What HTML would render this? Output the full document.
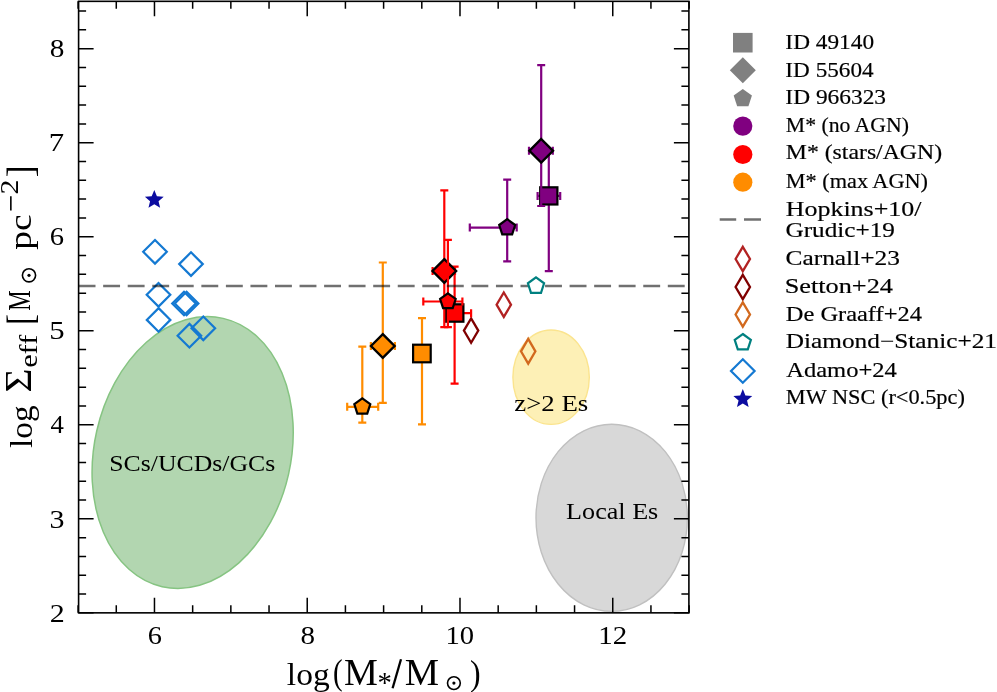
<!DOCTYPE html><html><head><meta charset="utf-8"><style>html,body{margin:0;padding:0;background:#fff;width:997px;height:692px;overflow:hidden}</style></head><body><svg width="997" height="692" viewBox="0 0 997 692" style="display:block;will-change:transform;font-family:'Liberation Serif',serif"><rect width="997" height="692" fill="#fff"/><ellipse cx="192.65" cy="452.55" rx="98.3" ry="137.6" transform="rotate(12.8 192.65 452.55)" fill="#b2d6b0" stroke="#86c482" stroke-width="1.5"/><ellipse cx="551.1" cy="377.2" rx="38.2" ry="47.2" fill="#fdf0b6" stroke="#fbe48e" stroke-width="1.4"/><ellipse cx="611.7" cy="517.8" rx="75.7" ry="93.6" fill="#d8d8d8" stroke="#c0c0c0" stroke-width="1.4"/><text transform="translate(109.30 471.30) scale(1.1199 1)" font-size="23">SCs/UCDs/GCs</text><text transform="translate(514.29 410.70) scale(1.1670 1)" font-size="23">z&gt;2 Es</text><text transform="translate(566.12 518.70) scale(1.1372 1)" font-size="23">Local Es</text><path d="M155.00 240.00L166.80 251.80L155.00 263.60L143.20 251.80Z" fill="none" stroke="#1479d2" stroke-width="2.2" stroke-linejoin="miter"/><path d="M191.00 252.30L202.80 264.10L191.00 275.90L179.20 264.10Z" fill="none" stroke="#1479d2" stroke-width="2.2" stroke-linejoin="miter"/><path d="M158.50 283.00L170.30 294.80L158.50 306.60L146.70 294.80Z" fill="none" stroke="#1479d2" stroke-width="2.2" stroke-linejoin="miter"/><path d="M184.00 291.70L195.80 303.50L184.00 315.30L172.20 303.50Z" fill="none" stroke="#1479d2" stroke-width="2.2" stroke-linejoin="miter"/><path d="M186.60 291.70L198.40 303.50L186.60 315.30L174.80 303.50Z" fill="none" stroke="#1479d2" stroke-width="2.2" stroke-linejoin="miter"/><path d="M158.60 308.10L170.40 319.90L158.60 331.70L146.80 319.90Z" fill="none" stroke="#1479d2" stroke-width="2.2" stroke-linejoin="miter"/><path d="M189.40 323.90L201.20 335.70L189.40 347.50L177.60 335.70Z" fill="none" stroke="#1479d2" stroke-width="2.2" stroke-linejoin="miter"/><path d="M203.30 316.50L215.10 328.30L203.30 340.10L191.50 328.30Z" fill="none" stroke="#1479d2" stroke-width="2.2" stroke-linejoin="miter"/><polygon points="154.30,189.90 156.92,196.20 163.72,196.74 158.54,201.18 160.12,207.81 154.30,204.26 148.48,207.81 150.06,201.18 144.88,196.74 151.68,196.20" fill="#0c0ca0"/><path d="M503.80 292.50L511.00 304.70L503.80 316.90L496.60 304.70Z" fill="none" stroke="#b22222" stroke-width="2.3" stroke-linejoin="miter"/><path d="M471.10 318.40L478.30 330.60L471.10 342.80L463.90 330.60Z" fill="none" stroke="#800000" stroke-width="2.3" stroke-linejoin="miter"/><path d="M528.20 338.90L535.40 351.30L528.20 363.70L521.00 351.30Z" fill="none" stroke="#d2691e" stroke-width="2.3" stroke-linejoin="miter"/><path d="M362.3 406.8V346.7M358.3 346.7H366.3" stroke="#ff8c00" stroke-width="2.2" fill="none"/><path d="M362.3 406.8V422.7M358.3 422.7H366.3" stroke="#ff8c00" stroke-width="2.2" fill="none"/><path d="M362.3 406.8H347.2M347.2 402.8V410.8" stroke="#ff8c00" stroke-width="2.2" fill="none"/><path d="M362.3 406.8H378.2M378.2 402.8V410.8" stroke="#ff8c00" stroke-width="2.2" fill="none"/><path d="M382.8 346V262.5M378.8 262.5H386.8" stroke="#ff8c00" stroke-width="2.2" fill="none"/><path d="M382.8 346V402.8M378.8 402.8H386.8" stroke="#ff8c00" stroke-width="2.2" fill="none"/><path d="M382.8 346H370.9M370.9 342V350" stroke="#ff8c00" stroke-width="2.2" fill="none"/><path d="M382.8 346H394.9M394.9 342V350" stroke="#ff8c00" stroke-width="2.2" fill="none"/><path d="M422 353.5V318.2M418 318.2H426" stroke="#ff8c00" stroke-width="2.2" fill="none"/><path d="M422 353.5V424.3M418 424.3H426" stroke="#ff8c00" stroke-width="2.2" fill="none"/><polygon points="362.30,398.40 370.29,404.20 367.24,413.60 357.36,413.60 354.31,404.20" fill="#ff8c00" stroke="#000" stroke-width="2.2" stroke-linejoin="miter"/><path d="M382.80 334.20L394.60 346.00L382.80 357.80L371.00 346.00Z" fill="#ff8c00" stroke="#000" stroke-width="2.4" stroke-linejoin="miter"/><rect x="413.10" y="344.70" width="17.60" height="17.60" fill="#ff8c00" stroke="#000" stroke-width="2.2"/><path d="M454.6 313.2V266.7M450.6 266.7H458.6" stroke="#ff0000" stroke-width="2.2" fill="none"/><path d="M454.6 313.2V383.6M450.6 383.6H458.6" stroke="#ff0000" stroke-width="2.2" fill="none"/><path d="M454.6 313.2H471.1M471.1 309.2V317.2" stroke="#ff0000" stroke-width="2.2" fill="none"/><rect x="446.00" y="304.30" width="17.40" height="17.40" fill="#ff0000" stroke="#000" stroke-width="2.2"/><path d="M444.3 271.0V190.4M440.3 190.4H448.3" stroke="#ff0000" stroke-width="2.2" fill="none"/><path d="M444.3 271.0V327.2M440.3 327.2H448.3" stroke="#ff0000" stroke-width="2.2" fill="none"/><path d="M444.3 271.0H432.6M432.6 267.0V275.0" stroke="#ff0000" stroke-width="2.2" fill="none"/><path d="M444.3 271.0H455.0M455.0 267.0V275.0" stroke="#ff0000" stroke-width="2.2" fill="none"/><path d="M444.30 259.20L456.10 271.00L444.30 282.80L432.50 271.00Z" fill="#ff0000" stroke="#000" stroke-width="2.4" stroke-linejoin="miter"/><path d="M447.9 301.5V239.9M443.9 239.9H451.9" stroke="#ff0000" stroke-width="2.2" fill="none"/><path d="M447.9 301.5V327.2M443.9 327.2H451.9" stroke="#ff0000" stroke-width="2.2" fill="none"/><path d="M447.9 301.5H423.3M423.3 297.5V305.5" stroke="#ff0000" stroke-width="2.2" fill="none"/><path d="M447.9 301.5H462.4M462.4 297.5V305.5" stroke="#ff0000" stroke-width="2.2" fill="none"/><polygon points="447.90,293.30 455.70,298.97 452.72,308.13 443.08,308.13 440.10,298.97" fill="#ff0000" stroke="#000" stroke-width="2.2" stroke-linejoin="miter"/><path d="M548.8 195.9V150M544.8 150H552.8" stroke="#800080" stroke-width="2.2" fill="none"/><path d="M548.8 195.9V271.1M544.8 271.1H552.8" stroke="#800080" stroke-width="2.2" fill="none"/><path d="M548.8 195.9H537.6M537.6 191.9V199.9" stroke="#800080" stroke-width="2.2" fill="none"/><path d="M548.8 195.9H560.2M560.2 191.9V199.9" stroke="#800080" stroke-width="2.2" fill="none"/><rect x="540.20" y="187.30" width="17.20" height="17.20" fill="#800080" stroke="#000" stroke-width="2.2"/><path d="M541.2 150.8V65.2M537.2 65.2H545.2" stroke="#800080" stroke-width="2.2" fill="none"/><path d="M541.2 150.8V206M537.2 206H545.2" stroke="#800080" stroke-width="2.2" fill="none"/><path d="M541.2 150.8H529M529 146.8V154.8" stroke="#800080" stroke-width="2.2" fill="none"/><path d="M541.2 150.8H552.8M552.8 146.8V154.8" stroke="#800080" stroke-width="2.2" fill="none"/><path d="M541.20 139.00L553.00 150.80L541.20 162.60L529.40 150.80Z" fill="#800080" stroke="#000" stroke-width="2.4" stroke-linejoin="miter"/><path d="M507.2 227.6V179.7M503.2 179.7H511.2" stroke="#800080" stroke-width="2.2" fill="none"/><path d="M507.2 227.6V261.3M503.2 261.3H511.2" stroke="#800080" stroke-width="2.2" fill="none"/><path d="M507.2 227.6H469.8M469.8 223.6V231.6" stroke="#800080" stroke-width="2.2" fill="none"/><path d="M507.2 227.6H516.7M516.7 223.6V231.6" stroke="#800080" stroke-width="2.2" fill="none"/><polygon points="507.20,219.20 515.19,225.00 512.14,234.40 502.26,234.40 499.21,225.00" fill="#800080" stroke="#000" stroke-width="2.2" stroke-linejoin="miter"/><line x1="78.6" y1="286" x2="688.9" y2="286" stroke="rgba(0,0,0,0.56)" stroke-width="2.3" stroke-dasharray="16.9 7.65"/><polygon points="536.00,277.40 544.08,283.27 541.00,292.78 531.00,292.78 527.92,283.27" fill="#fff" stroke="#008080" stroke-width="2.2" stroke-linejoin="miter"/><path d="M78.09 612.85V605.35M78.09 1.33V8.83M116.28 612.85V605.35M116.28 1.33V8.83M154.47 612.85V597.85M154.47 1.33V16.33M192.66 612.85V605.35M192.66 1.33V8.83M230.85 612.85V605.35M230.85 1.33V8.83M269.04 612.85V605.35M269.04 1.33V8.83M307.23 612.85V597.85M307.23 1.33V16.33M345.42 612.85V605.35M345.42 1.33V8.83M383.61 612.85V605.35M383.61 1.33V8.83M421.80 612.85V605.35M421.80 1.33V8.83M459.99 612.85V597.85M459.99 1.33V16.33M498.18 612.85V605.35M498.18 1.33V8.83M536.37 612.85V605.35M536.37 1.33V8.83M574.56 612.85V605.35M574.56 1.33V8.83M612.75 612.85V597.85M612.75 1.33V16.33M650.94 612.85V605.35M650.94 1.33V8.83M689.13 612.85V605.35M689.13 1.33V8.83M78.6 612.85H93.60M688.9 612.85H673.90M78.6 594.04H86.10M688.9 594.04H681.40M78.6 575.24H86.10M688.9 575.24H681.40M78.6 556.43H86.10M688.9 556.43H681.40M78.6 537.63H86.10M688.9 537.63H681.40M78.6 518.82H93.60M688.9 518.82H673.90M78.6 500.01H86.10M688.9 500.01H681.40M78.6 481.21H86.10M688.9 481.21H681.40M78.6 462.40H86.10M688.9 462.40H681.40M78.6 443.60H86.10M688.9 443.60H681.40M78.6 424.79H93.60M688.9 424.79H673.90M78.6 405.98H86.10M688.9 405.98H681.40M78.6 387.18H86.10M688.9 387.18H681.40M78.6 368.37H86.10M688.9 368.37H681.40M78.6 349.57H86.10M688.9 349.57H681.40M78.6 330.76H93.60M688.9 330.76H673.90M78.6 311.95H86.10M688.9 311.95H681.40M78.6 293.15H86.10M688.9 293.15H681.40M78.6 274.34H86.10M688.9 274.34H681.40M78.6 255.54H86.10M688.9 255.54H681.40M78.6 236.73H93.60M688.9 236.73H673.90M78.6 217.92H86.10M688.9 217.92H681.40M78.6 199.12H86.10M688.9 199.12H681.40M78.6 180.31H86.10M688.9 180.31H681.40M78.6 161.51H86.10M688.9 161.51H681.40M78.6 142.70H93.60M688.9 142.70H673.90M78.6 123.89H86.10M688.9 123.89H681.40M78.6 105.09H86.10M688.9 105.09H681.40M78.6 86.28H86.10M688.9 86.28H681.40M78.6 67.48H86.10M688.9 67.48H681.40M78.6 48.67H93.60M688.9 48.67H673.90M78.6 29.86H86.10M688.9 29.86H681.40M78.6 11.06H86.10M688.9 11.06H681.40" stroke="#000" stroke-width="1.5" fill="none"/><rect x="78.6" y="1.33" width="610.30" height="611.52" fill="none" stroke="#000" stroke-width="1.6"/><text transform="translate(49.80 621.55) scale(1.2000 1)" font-size="25">2</text><text transform="translate(49.50 527.52) scale(1.2000 1)" font-size="25">3</text><text transform="translate(50.47 433.49) scale(1.0696 1)" font-size="25">4</text><text transform="translate(49.16 339.46) scale(1.2300 1)" font-size="25">5</text><text transform="translate(49.86 245.43) scale(1.1442 1)" font-size="25">6</text><text transform="translate(48.85 151.40) scale(1.2300 1)" font-size="25">7</text><text transform="translate(49.83 57.37) scale(1.1714 1)" font-size="25">8</text><text transform="translate(147.84 644.20) scale(1.1349 1)" font-size="25">6</text><text transform="translate(300.57 644.20) scale(1.1619 1)" font-size="25">8</text><text transform="translate(445.56 644.20) scale(1.1448 1)" font-size="25">10</text><text transform="translate(598.29 644.20) scale(1.1581 1)" font-size="25">12</text><text transform="translate(286.83 685.30) scale(1.0822 1)" font-size="31">log</text><text transform="translate(333.05 684.20) scale(0.8242 1)" font-size="35">(</text><text transform="translate(344.06 684.92) scale(0.9932 1)" font-size="38.33">M</text><text transform="translate(377.46 691.50) scale(0.9583 1)" font-size="30.00">*</text><path d="M392.6 688.3L401.0 659.2" stroke="#000" stroke-width="2.3"/><text transform="translate(404.74 685.11) scale(0.9940 1)" font-size="38.79">M</text><circle cx="453.9" cy="683.1" r="6.4" fill="none" stroke="#000" stroke-width="1.6"/><circle cx="453.9" cy="683.1" r="1.6" fill="#000"/><text transform="translate(470.04 684.70) scale(0.9121 1)" font-size="35">)</text><g transform="rotate(-90)"><text transform="translate(-447.97 31.69) scale(1.0744 1)" font-size="31.00">log</text><text transform="translate(-392.55 30.62) scale(1.0712 1)" font-size="38.48">Σ</text><text transform="translate(-367.81 36.64) scale(1.1661 1)" font-size="25.97">eff</text><text transform="translate(-325.01 32.58) scale(0.8905 1)" font-size="37.11">[</text><text transform="translate(-310.69 29.89) scale(0.7482 1)" font-size="30.76">M</text><text transform="translate(-249.75 31.11) scale(1.1565 1)" font-size="32.35">pc</text><text transform="translate(-194.50 17.85) scale(1.2036 1)" font-size="24.93">2</text><text transform="translate(-177.34 32.98) scale(0.9492 1)" font-size="37.83">]</text></g><circle cx="29.0" cy="275.3" r="6.6" fill="none" stroke="#000" stroke-width="1.6"/><circle cx="29.0" cy="275.3" r="1.6" fill="#000"/><path d="M10.85 196.2V210.6" stroke="#000" stroke-width="1.6"/><rect x="733.00" y="32.90" width="19.60" height="19.60" fill="#808080" stroke="none" stroke-width="0"/><path d="M742.80 57.30L755.80 70.30L742.80 83.30L729.80 70.30Z" fill="#808080" stroke="none" stroke-width="0" stroke-linejoin="miter"/><polygon points="742.80,88.90 751.93,95.53 748.44,106.27 737.16,106.27 733.67,95.53" fill="#808080" stroke="none" stroke-width="0" stroke-linejoin="miter"/><circle cx="742.8" cy="126.1" r="9.6" fill="#800080"/><circle cx="742.8" cy="154.5" r="9.6" fill="#ff0000"/><circle cx="742.8" cy="182.2" r="9.6" fill="#ff8c00"/><text transform="translate(785.37 49.10) scale(1.1107 1)" font-size="21" stroke="#000" stroke-width="0.18">ID 49140</text><text transform="translate(785.37 76.70) scale(1.1048 1)" font-size="21" stroke="#000" stroke-width="0.18">ID 55604</text><text transform="translate(785.36 104.10) scale(1.1145 1)" font-size="21" stroke="#000" stroke-width="0.18">ID 966323</text><text transform="translate(785.85 131.80) scale(1.0342 1)" font-size="21" stroke="#000" stroke-width="0.18">M* (no AGN)</text><text transform="translate(785.79 159.40) scale(1.1309 1)" font-size="21" stroke="#000" stroke-width="0.18">M* (stars/AGN)</text><text transform="translate(785.83 187.60) scale(1.0603 1)" font-size="21" stroke="#000" stroke-width="0.18">M* (max AGN)</text><text transform="translate(785.72 215.80) scale(1.2363 1)" font-size="21" stroke="#000" stroke-width="0.18">Hopkins+10/</text><text transform="translate(785.49 236.80) scale(1.2005 1)" font-size="21" stroke="#000" stroke-width="0.18">Grudic+19</text><text transform="translate(785.48 265.40) scale(1.2093 1)" font-size="21" stroke="#000" stroke-width="0.18">Carnall+23</text><text transform="translate(784.66 293.00) scale(1.2525 1)" font-size="21" stroke="#000" stroke-width="0.18">Setton+24</text><text transform="translate(785.77 320.70) scale(1.1646 1)" font-size="21" stroke="#000" stroke-width="0.18">De Graaff+24</text><text transform="translate(785.74 348.30) scale(1.2049 1)" font-size="21" stroke="#000" stroke-width="0.18">Diamond−Stanic+21</text><text transform="translate(786.25 376.60) scale(1.1692 1)" font-size="21" stroke="#000" stroke-width="0.18">Adamo+24</text><text transform="translate(785.83 404.00) scale(1.0639 1)" font-size="21" stroke="#000" stroke-width="0.18">MW NSC (r&lt;0.5pc)</text><path d="M719.7 219.45H736.2M744 219.45H761" stroke="rgba(0,0,0,0.56)" stroke-width="2.6"/><path d="M742.80 246.80L750.00 259.00L742.80 271.20L735.60 259.00Z" fill="none" stroke="#b22222" stroke-width="2.3" stroke-linejoin="miter"/><path d="M742.80 274.80L750.00 287.00L742.80 299.20L735.60 287.00Z" fill="none" stroke="#800000" stroke-width="2.3" stroke-linejoin="miter"/><path d="M742.80 302.30L750.00 314.50L742.80 326.70L735.60 314.50Z" fill="none" stroke="#d2691e" stroke-width="2.3" stroke-linejoin="miter"/><polygon points="742.80,334.00 750.88,339.87 747.80,349.38 737.80,349.38 734.72,339.87" fill="none" stroke="#008080" stroke-width="2.2" stroke-linejoin="miter"/><path d="M742.80 359.20L754.60 371.00L742.80 382.80L731.00 371.00Z" fill="none" stroke="#1479d2" stroke-width="2.2" stroke-linejoin="miter"/><polygon points="742.80,389.10 745.42,395.40 752.22,395.94 747.04,400.38 748.62,407.01 742.80,403.45 736.98,407.01 738.56,400.38 733.38,395.94 740.18,395.40" fill="#0c0ca0"/></svg></body></html>
